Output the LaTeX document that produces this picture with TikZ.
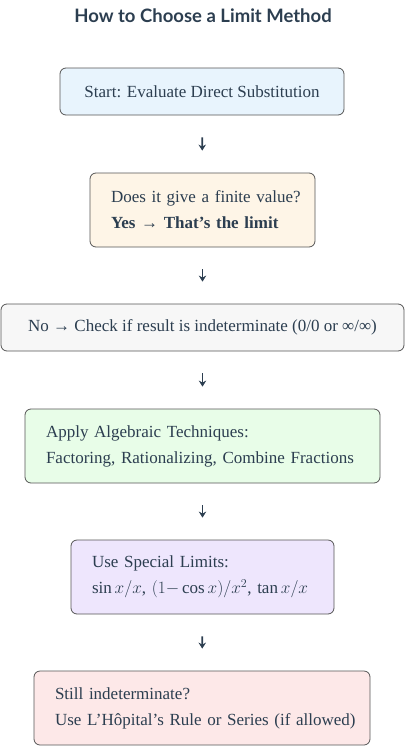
\documentclass[tikz,border=0pt]{standalone}
\usepackage{fontspec}
\setmainfont{Liberation Serif}
\newfontfamily\titlefont{Lato}
\usetikzlibrary{arrows.meta}

\definecolor{ink}{HTML}{2C3E50}
\definecolor{edge}{HTML}{555555}
\definecolor{startfill}{HTML}{E8F4FD}
\definecolor{finitefill}{HTML}{FEF5E7}
\definecolor{checkfill}{HTML}{F7F7F7}
\definecolor{algebrafill}{HTML}{E8FDE8}
\definecolor{specialfill}{HTML}{EEE6FD}
\definecolor{hopitalfill}{HTML}{FDE8E8}

\begin{document}
\begin{tikzpicture}[x=1pt,y=-1pt,
    box/.style={draw=edge,line width=0.8pt,rounded corners=6pt,text=ink,
      font=\fontsize{17}{26}\selectfont,inner xsep=0pt,inner ysep=0pt},
    onebox/.style={box,minimum height=47pt,align=center},
    twobox/.style={box,minimum height=74pt,align=left,inner xsep=21pt},
    flow/.style={draw=ink,line width=1.8pt,-{Stealth[length=6pt,width=7.5pt]},
      shorten <=22pt,shorten >=22pt}
  ]
    \useasboundingbox (0,0) rectangle (407,750);

    \node[text=ink,font=\titlefont\bfseries\fontsize{18.5}{22}\selectfont] (title) at (203,16) {How to Choose a Limit Method};

    \node[onebox,fill=startfill,minimum width=284pt] (start) at (202,91.5)
      {Start: Evaluate Direct Substitution};
    \node[twobox,fill=finitefill,text width=183pt] (finite) at (202.5,210)
      {\mbox{Does it give a finite value?}\\ \mbox{\textbf{Yes → That’s the limit}}};
    \node[onebox,fill=checkfill,minimum width=403pt] (check) at (202.5,327.5)
      {No → Check if result is indeterminate (0/0 or ∞/∞)};
    \node[twobox,fill=algebrafill,text width=313pt] (algebra) at (202.5,446)
      {\mbox{Apply Algebraic Techniques:}\\ \mbox{Factoring, Rationalizing, Combine Fractions}};
    \node[twobox,fill=specialfill,text width=221pt] (special) at (202.5,577)
      {\mbox{Use Special Limits:}\\ \mbox{$\sin x/x$, $(1{-}\cos x)/x^2$, $\tan x/x$}};
    \node[twobox,fill=hopitalfill,text width=294pt] (hopital) at (202,708)
      {\mbox{Still indeterminate?}\\ \mbox{Use L’Hôpital’s Rule or Series (if allowed)}};

    \draw[flow] (start) -- (finite);
    \draw[flow] (finite) -- (check);
    \draw[flow] (check) -- (algebra);
    \draw[flow] (algebra) -- (special);
    \draw[flow] (special) -- (hopital);
\end{tikzpicture}
\end{document}
